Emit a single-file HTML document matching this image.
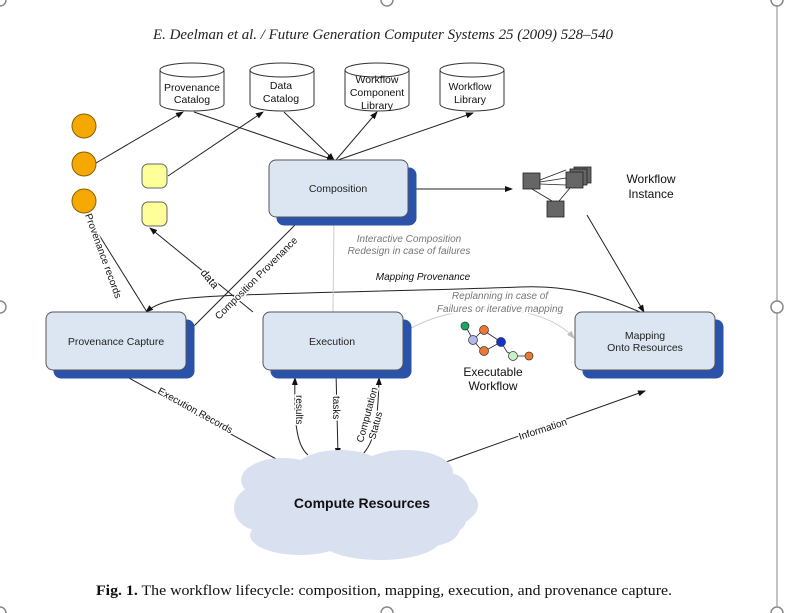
<!DOCTYPE html>
<html><head><meta charset="utf-8"><style>
html,body{margin:0;padding:0;background:#fff;}
svg{display:block;font-family:"Liberation Sans",sans-serif;}
.lb{paint-order:stroke;stroke:#fff;stroke-width:3px;}
</style></head><body>
<svg width="786" height="613" viewBox="0 0 786 613" xmlns="http://www.w3.org/2000/svg">
<defs>
<marker id="a" markerWidth="8" markerHeight="8" refX="7" refY="4" orient="auto" markerUnits="userSpaceOnUse"><path d="M0,1 L8,4 L0,7 z" fill="#111"/></marker>
<marker id="g" markerWidth="8" markerHeight="8" refX="7" refY="4" orient="auto" markerUnits="userSpaceOnUse"><path d="M0,1 L8,4 L0,7 z" fill="#bbb"/></marker>
</defs>
<line x1="777" y1="0" x2="777" y2="606" stroke="#999" stroke-width="1.2"/>
<g fill="#fff" stroke="#888" stroke-width="1.5">
<circle cx="0" cy="0" r="6"/><circle cx="387" cy="0" r="6"/><circle cx="777" cy="0" r="6"/>
<circle cx="0" cy="307" r="6"/><circle cx="777" cy="307" r="6"/>
<circle cx="0" cy="613" r="6"/><circle cx="387" cy="613" r="6"/><circle cx="777" cy="613" r="6"/>
</g>
<text x="383" y="39" text-anchor="middle" font-family="Liberation Serif,serif" font-style="italic" font-size="15" textLength="460" lengthAdjust="spacingAndGlyphs" fill="#222">E. Deelman et al. / Future Generation Computer Systems 25 (2009) 528–540</text>

<g fill="#fff" stroke="#333" stroke-width="1">
<path d="M160,70 v34 a32,7 0 0 0 64,0 v-34"/><ellipse cx="192" cy="70" rx="32" ry="7"/>
<path d="M250,70 v34 a32,7 0 0 0 64,0 v-34"/><ellipse cx="282" cy="70" rx="32" ry="7"/>
<path d="M345,70 v34 a32,7 0 0 0 64,0 v-34"/><ellipse cx="377" cy="70" rx="32" ry="7"/>
<path d="M440,70 v34 a32,7 0 0 0 64,0 v-34"/><ellipse cx="472" cy="70" rx="32" ry="7"/>
</g>
<g font-size="10.5" text-anchor="middle" fill="#111">
<text x="192" y="91">Provenance</text><text x="192" y="103">Catalog</text>
<text x="281" y="89">Data</text><text x="281" y="102">Catalog</text>
<text x="377" y="83">Workflow</text><text x="377" y="96">Component</text><text x="377" y="109">Library</text>
<text x="470" y="90">Workflow</text><text x="470" y="103">Library</text>
</g>

<g fill="#f5a800" stroke="#8a6000"><circle cx="84" cy="126" r="12"/><circle cx="84" cy="164" r="12"/><circle cx="84" cy="201" r="12"/></g>
<g fill="#ffff99" stroke="#666"><rect x="142" y="164" width="25" height="24" rx="6"/><rect x="142" y="202" width="25" height="24" rx="6"/></g>

<g stroke="#222" stroke-width="1" fill="none">
<line x1="96" y1="163" x2="183" y2="112" marker-end="url(#a)"/>
<line x1="168" y1="176" x2="263" y2="112" marker-end="url(#a)"/>
<line x1="194" y1="112" x2="334" y2="160" marker-end="url(#a)"/>
<line x1="284" y1="112" x2="334" y2="160" marker-end="url(#a)"/>
<line x1="336" y1="160" x2="377" y2="112" marker-end="url(#a)"/>
<line x1="338" y1="160" x2="473" y2="113" marker-end="url(#a)"/>
<line x1="408" y1="189" x2="512" y2="189" marker-end="url(#a)"/>
<line x1="587" y1="215" x2="644" y2="312" marker-end="url(#a)"/>
<line x1="86" y1="214" x2="147" y2="312"/>
<line x1="253" y1="312" x2="150" y2="228" marker-end="url(#a)"/>
<line x1="298" y1="222" x2="188" y2="332" marker-end="url(#a)"/>
<path d="M640,312 C600,295 570,285 520,287 C420,291 300,292 220,296 C180,298 160,300 146,312" marker-end="url(#a)"/>
<line x1="278" y1="460" x2="118" y2="372" marker-end="url(#a)"/>
<line x1="446" y1="462" x2="645" y2="391" marker-end="url(#a)"/>
<path d="M308,455 C296,445 294,420 295,378" marker-end="url(#a)"/>
<line x1="336" y1="372" x2="338" y2="455" marker-end="url(#a)"/>
<path d="M362,455 C372,445 378,430 379,378" marker-end="url(#a)"/>
</g>
<line x1="334" y1="218" x2="333" y2="312" stroke="#ccc" stroke-width="1"/>
<path d="M400,335 C450,300 540,300 574,338" stroke="#ccc" fill="none" stroke-width="1" marker-end="url(#g)"/>

<g stroke="#2a52a8" fill="#2a52a8">
<rect x="277" y="168" width="139" height="57" rx="7"/>
<rect x="54" y="320" width="140" height="58" rx="7"/>
<rect x="271" y="320" width="140" height="58" rx="7"/>
<rect x="583" y="320" width="140" height="58" rx="7"/>
</g>
<g stroke="#555" fill="#dce6f3">
<rect x="269" y="160" width="139" height="57" rx="7"/>
<rect x="46" y="312" width="140" height="58" rx="7"/>
<rect x="263" y="312" width="140" height="58" rx="7"/>
<rect x="575" y="312" width="140" height="58" rx="7"/>
</g>
<g font-size="10.5" text-anchor="middle" fill="#222">
<text x="338" y="192">Composition</text>
<text x="116" y="345">Provenance Capture</text>
<text x="332" y="345">Execution</text>
<text x="645" y="339">Mapping</text><text x="645" y="351">Onto Resources</text>
</g>

<g fill="#666" stroke="#222" stroke-width="0.8">
<rect x="523" y="173" width="17" height="16"/>
<rect x="574" y="167" width="17" height="16"/><rect x="570" y="169" width="17" height="16"/><rect x="566" y="172" width="17" height="16"/>
<rect x="547" y="201" width="17" height="16"/>
</g>
<g stroke="#222" stroke-width="0.8"><line x1="540" y1="180" x2="566" y2="170"/><line x1="540" y1="182" x2="566" y2="178"/><line x1="540" y1="184" x2="566" y2="185"/><line x1="532" y1="189" x2="552" y2="201"/><line x1="570" y1="188" x2="559" y2="201"/></g>
<text x="651" y="183" font-size="12" text-anchor="middle" fill="#111">Workflow</text>
<text x="651" y="198" font-size="12" text-anchor="middle" fill="#111">Instance</text>

<g stroke="#222" stroke-width="0.8" fill="none"><path d="M465,325 L473,340 L483,330 L501,342 L483,352 L473,340 M501,342 L507,352 L515,356 L528,356"/></g>
<g stroke="#333" stroke-width="0.7">
<circle cx="465" cy="326" r="4" fill="#1aa860"/><circle cx="484" cy="330" r="4.5" fill="#ee7733"/>
<circle cx="473" cy="340" r="4.5" fill="#b0b8e8"/><circle cx="484" cy="351" r="4.5" fill="#ee7733"/>
<circle cx="501" cy="342" r="4.5" fill="#1133cc"/><circle cx="513" cy="356" r="4.5" fill="#c8f0c8"/><circle cx="529" cy="356" r="4" fill="#ee7733"/>
</g>
<text x="493" y="376" font-size="12" text-anchor="middle" fill="#111">Executable</text>
<text x="493" y="390" font-size="12" text-anchor="middle" fill="#111">Workflow</text>

<g font-size="10" font-style="italic" text-anchor="middle" fill="#777" class="lb">
<text x="409" y="242">Interactive Composition</text><text x="409" y="254">Redesign in case of failures</text>
<text x="500" y="299">Replanning in case of</text><text x="500" y="312">Failures or iterative mapping</text>
</g>
<text x="423" y="280" font-size="10" font-style="italic" text-anchor="middle" fill="#111" class="lb">Mapping Provenance</text>

<g font-size="10" fill="#111" class="lb">
<text transform="translate(85,215) rotate(70)">Provenance records</text>
<text transform="translate(200,273) rotate(50)" font-size="11">data</text>
<text transform="translate(219,320) rotate(-45)">Composition Provenance</text>
<text transform="translate(157,393) rotate(29)">Execution Records</text>
<text transform="translate(296,395) rotate(90)">results</text>
<text transform="translate(333,396) rotate(90)">tasks</text>
<text transform="translate(363,443) rotate(-75)">Computation</text>
<text transform="translate(375,440) rotate(-75)">Status</text>
<text transform="translate(520,440) rotate(-18)">Information</text>
</g>

<g fill="#d9e0f0">
<ellipse cx="360" cy="505" rx="118" ry="38"/>
<ellipse cx="283" cy="480" rx="42" ry="22"/><ellipse cx="340" cy="470" rx="45" ry="20"/><ellipse cx="405" cy="472" rx="48" ry="22"/>
<ellipse cx="448" cy="495" rx="22" ry="22"/><ellipse cx="452" cy="520" rx="14" ry="12"/><ellipse cx="258" cy="508" rx="24" ry="22"/>
<ellipse cx="300" cy="535" rx="50" ry="20"/><ellipse cx="380" cy="540" rx="60" ry="20"/><ellipse cx="430" cy="528" rx="30" ry="18"/>
</g>
<text x="362" y="508" font-size="14" font-weight="bold" text-anchor="middle" fill="#111">Compute Resources</text>

<text x="96" y="595" font-family="Liberation Serif,serif" font-size="15" fill="#111" textLength="576" lengthAdjust="spacingAndGlyphs"><tspan font-weight="bold">Fig. 1.</tspan>  The workflow lifecycle: composition, mapping, execution, and provenance capture.</text>
</svg>
</body></html>
